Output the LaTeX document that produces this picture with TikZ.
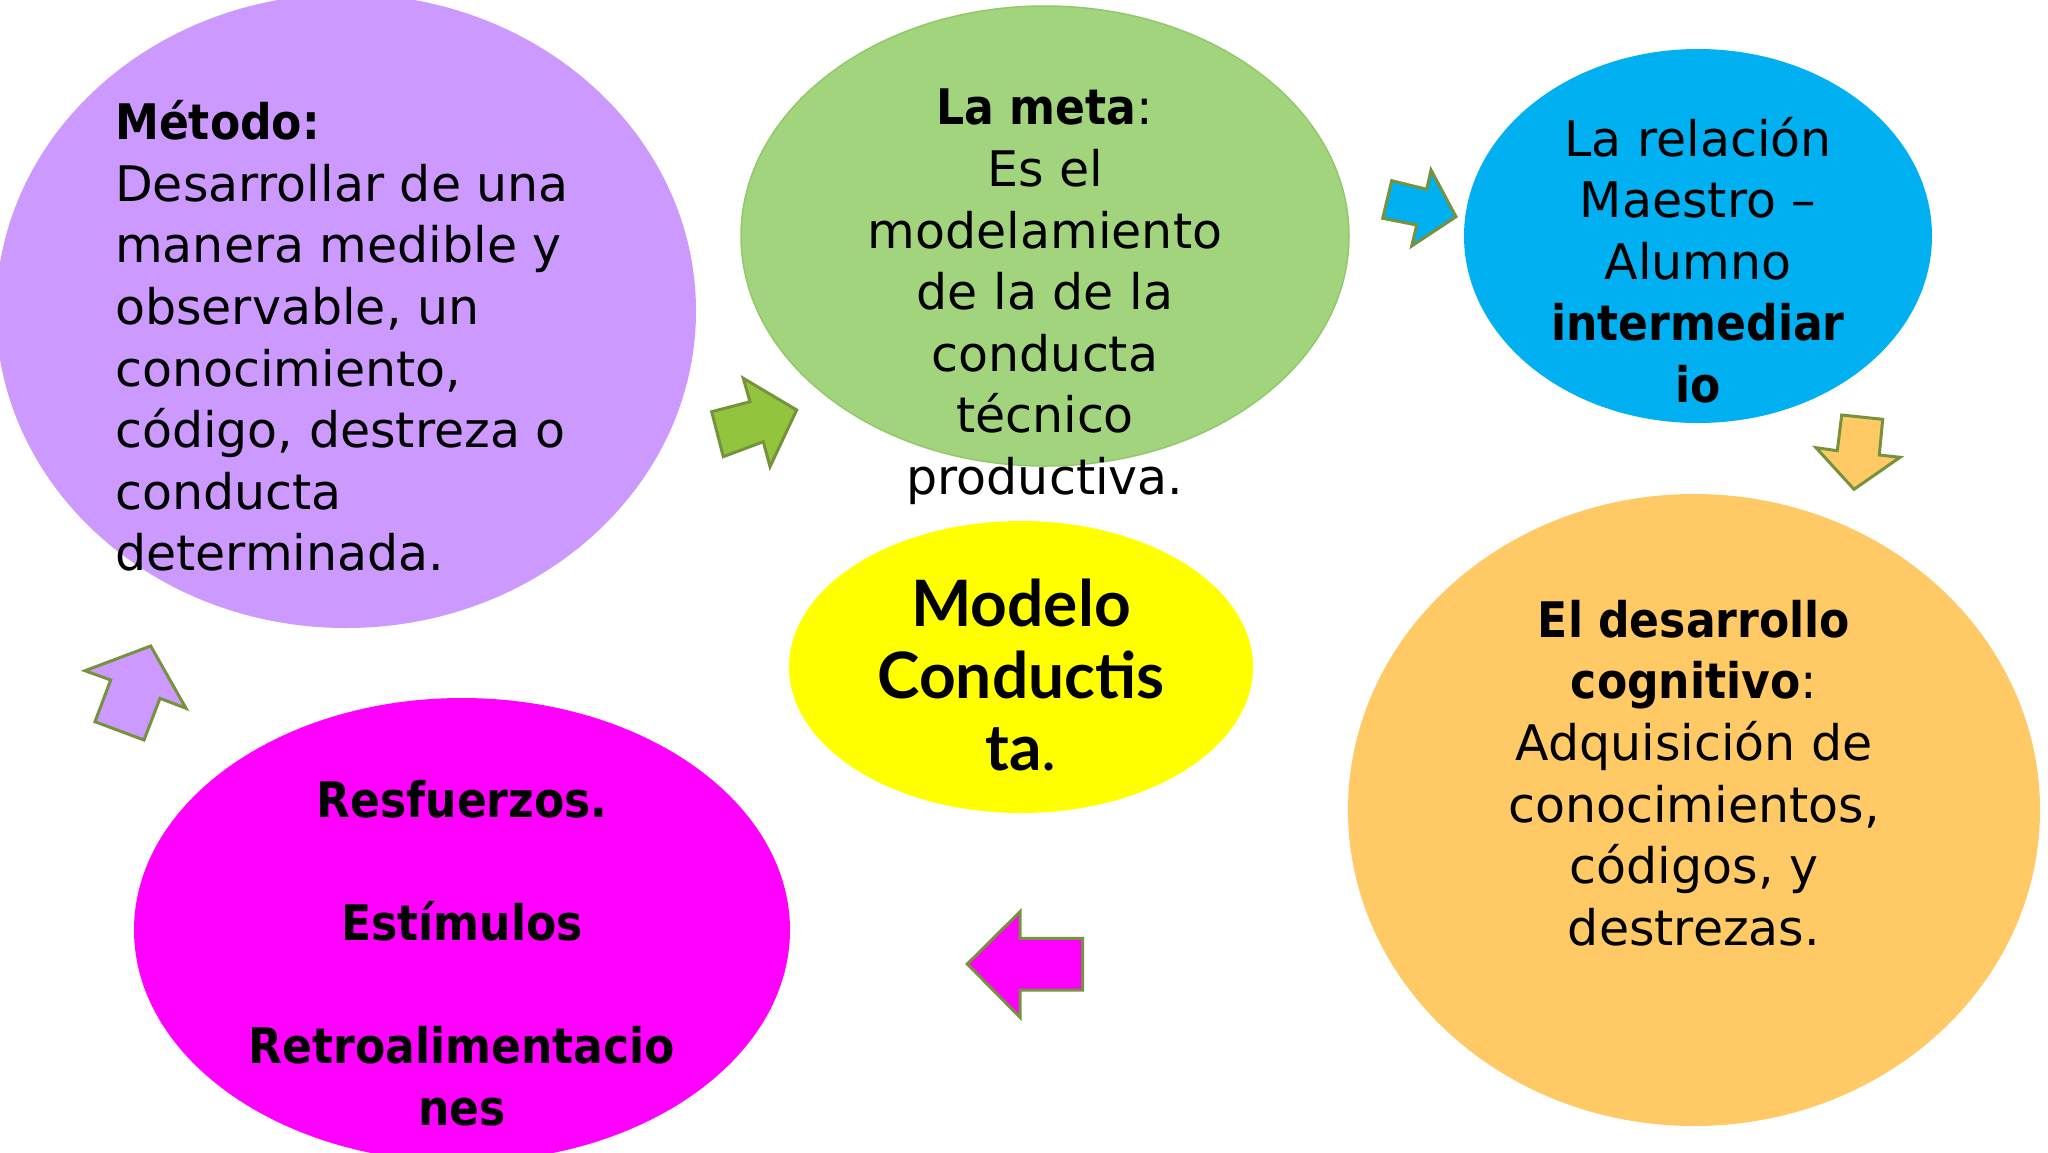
\documentclass[tikz,border=0pt]{standalone}
\usepackage{fontspec}
\setmainfont{DejaVu Sans}[BoldFont={DejaVu Sans Condensed Bold}]
\newfontfamily\latofont{Lato}
\usetikzlibrary{shapes.geometric}
\definecolor{cpurple}{HTML}{CC99FF}
\definecolor{cgreen}{HTML}{A1D47C}
\definecolor{cgreenedge}{HTML}{93C86A}
\definecolor{cblue}{HTML}{00B0F0}
\definecolor{corange}{HTML}{FFC966}
\definecolor{cyellow}{HTML}{FFFF00}
\definecolor{cmagenta}{HTML}{FF00FF}
\definecolor{carrowgreen}{HTML}{93C43E}
\definecolor{colive}{HTML}{76923C}
\tikzset{
  blob/.style={ellipse, inner sep=0pt, draw=none},
  txt/.style={inner sep=0pt, align=center, font=\fontsize{49}{61.6}\selectfont},
  blockarrow/.style={draw=colive, line width=3pt, line join=miter},
}
\begin{document}
\begin{tikzpicture}[x=1pt,y=-1pt]
\useasboundingbox (0,0) rectangle (2048,1152);
\clip (0,0) rectangle (2048,1152);
\fill[white] (0,0) rectangle (2048,1152);
% ellipses
\node[blob, fill=cpurple, minimum width=700pt, minimum height=634pt] (metodo) at (346,311) {};
\node[blob, fill=cgreen, draw=cgreenedge, line width=1.5pt, minimum width=608pt, minimum height=460pt] (meta) at (1045,236) {};
\node[blob, fill=cblue, minimum width=468pt, minimum height=374pt] (relacion) at (1698,236) {};
\node[blob, fill=corange, minimum width=692pt, minimum height=632pt] (desarrollo) at (1694,810) {};
\node[blob, fill=cyellow, minimum width=464pt, minimum height=292pt] (modelo) at (1021,667) {};
\node[blob, fill=cmagenta, minimum width=656pt, minimum height=464pt] (refuerzos) at (462,930) {};
% texts
\node[txt, align=left, anchor=west] (tmetodo) at (115,336)
  {\textbf{Método:}\\Desarrollar de una\\manera medible y\\observable, un\\conocimiento,\\código, destreza o\\conducta\\determinada.};
\node[txt] (tmeta) at (1045,297)
  {\textbf{La meta}:\\Es el\\modelamiento\\de la de la\\conducta\\técnico\\productiva.};
\node[txt] (trelacion) at (1698,260)
  {La relación\\Maestro –\\Alumno\\\textbf{intermediar}\\\textbf{io}};
\node[txt] (tdesarrollo) at (1694,773)
  {\textbf{El desarrollo}\\\textbf{cognitivo}:\\Adquisición de\\conocimientos,\\códigos, y\\destrezas.};
\node[txt, font=\fontsize{49}{61.6}\selectfont\bfseries] (trefuerzos) at (462,953)
  {Resfuerzos.\\[61.6pt]Estímulos\\[61.6pt]Retroalimentacio\\nes};
\node[txt, font=\fontsize{64}{72}\selectfont\latofont\bfseries] (tmodelo) at (1021,675)
  {Modelo\\Conductis\\ta{\mdseries.}};
% block arrows
\filldraw[blockarrow, fill=carrowgreen] (711.7,411.7) -- (750,401.7) -- (743.3,378.3) -- (796.7,410) -- (770,466.7) -- (763.3,441.7) -- (723.3,456.7) -- cycle;
\filldraw[blockarrow, fill=cblue] (1391.7,180.7) -- (1426.7,189.3) -- (1431,170) -- (1456,216.7) -- (1411.7,246) -- (1416.7,225) -- (1382.7,218.3) -- cycle;
\filldraw[blockarrow, fill=corange] (1841.7,415) -- (1882.7,419.3) -- (1879.3,455) -- (1900,457.3) -- (1854,489.3) -- (1816,447.7) -- (1837.3,450.7) -- cycle;
\filldraw[blockarrow, fill=cmagenta] (967.3,964) -- (1020,911.7) -- (1020,938.3) -- (1082.7,938.3) -- (1082.7,990) -- (1020,990) -- (1020,1017.3) -- cycle;
\filldraw[blockarrow, fill=cpurple] (85,670.7) -- (150.7,646) -- (186,708.3) -- (160,698.3) -- (144,740) -- (95,721.7) -- (110.7,680) -- cycle;
\end{tikzpicture}
\end{document}
